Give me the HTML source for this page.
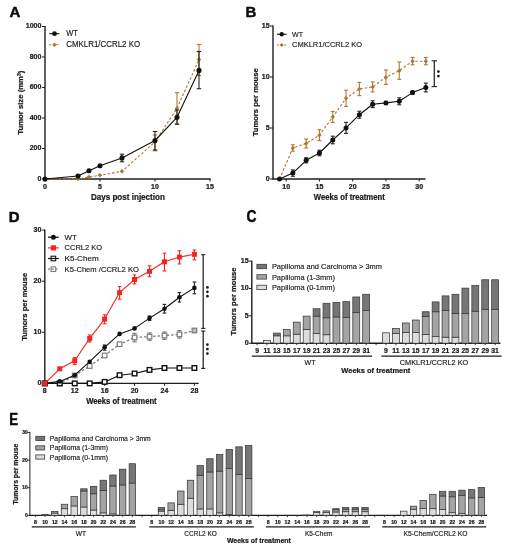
<!DOCTYPE html>
<html><head><meta charset="utf-8"><style>
html,body{margin:0;padding:0;background:#fff;overflow:hidden;width:507px;height:550px;}
svg{display:block;filter:blur(0.35px);font-family:"Liberation Sans",sans-serif;}
text{stroke:#1c1c1c;stroke-width:0.16px;}
text[font-weight=bold]{stroke-width:0.24px;}
</style></head><body>
<svg width="507" height="550" viewBox="0 0 507 550">
<rect width="507" height="550" fill="#fff"/>
<text x="9.40" y="16.50" font-size="15.0" font-weight="bold" fill="#0a0a0a" style="stroke-width:0.45px;stroke:#0a0a0a">A</text>
<text x="245.60" y="16.50" font-size="15.0" font-weight="bold" fill="#0a0a0a" style="stroke-width:0.45px;stroke:#0a0a0a">B</text>
<text x="8.80" y="221.60" font-size="15.0" font-weight="bold" fill="#0a0a0a" style="stroke-width:0.45px;stroke:#0a0a0a">D</text>
<text transform="translate(246.4 221.6) scale(0.92 1.04)" font-size="15.0" font-weight="bold" fill="#0a0a0a" style="stroke-width:0.45px;stroke:#0a0a0a">C</text>
<text transform="translate(9.2 425.2) scale(0.88 1.05)" font-size="15.0" font-weight="bold" fill="#0a0a0a" style="stroke-width:0.45px;stroke:#0a0a0a">E</text>
<line x1="45.00" y1="26.00" x2="45.00" y2="179.50" stroke="#1e1e1e" stroke-width="1.4"/>
<line x1="44.50" y1="179.00" x2="210.70" y2="179.00" stroke="#1e1e1e" stroke-width="1.4"/>
<line x1="42.00" y1="179.00" x2="45.00" y2="179.00" stroke="#1e1e1e" stroke-width="1"/>
<text x="41.40" y="180.90" font-size="7.0" font-weight="bold" text-anchor="end" fill="#1c1c1c">0</text>
<line x1="42.00" y1="148.50" x2="45.00" y2="148.50" stroke="#1e1e1e" stroke-width="1"/>
<text x="41.40" y="150.40" font-size="7.0" font-weight="bold" text-anchor="end" fill="#1c1c1c">200</text>
<line x1="42.00" y1="118.00" x2="45.00" y2="118.00" stroke="#1e1e1e" stroke-width="1"/>
<text x="41.40" y="119.90" font-size="7.0" font-weight="bold" text-anchor="end" fill="#1c1c1c">400</text>
<line x1="42.00" y1="87.50" x2="45.00" y2="87.50" stroke="#1e1e1e" stroke-width="1"/>
<text x="41.40" y="89.40" font-size="7.0" font-weight="bold" text-anchor="end" fill="#1c1c1c">600</text>
<line x1="42.00" y1="57.00" x2="45.00" y2="57.00" stroke="#1e1e1e" stroke-width="1"/>
<text x="41.40" y="58.90" font-size="7.0" font-weight="bold" text-anchor="end" fill="#1c1c1c">800</text>
<line x1="42.00" y1="26.50" x2="45.00" y2="26.50" stroke="#1e1e1e" stroke-width="1"/>
<text x="41.40" y="28.40" font-size="7.0" font-weight="bold" text-anchor="end" fill="#1c1c1c">1000</text>
<line x1="45.00" y1="179.00" x2="45.00" y2="181.60" stroke="#1e1e1e" stroke-width="1"/>
<text x="45.00" y="189.00" font-size="7.0" font-weight="bold" text-anchor="middle" fill="#1c1c1c">0</text>
<line x1="100.00" y1="179.00" x2="100.00" y2="181.60" stroke="#1e1e1e" stroke-width="1"/>
<text x="100.00" y="189.00" font-size="7.0" font-weight="bold" text-anchor="middle" fill="#1c1c1c">5</text>
<line x1="155.00" y1="179.00" x2="155.00" y2="181.60" stroke="#1e1e1e" stroke-width="1"/>
<text x="155.00" y="189.00" font-size="7.0" font-weight="bold" text-anchor="middle" fill="#1c1c1c">10</text>
<line x1="210.00" y1="179.00" x2="210.00" y2="181.60" stroke="#1e1e1e" stroke-width="1"/>
<text x="210.00" y="189.00" font-size="7.0" font-weight="bold" text-anchor="middle" fill="#1c1c1c">15</text>
<text x="127.90" y="199.60" font-size="8.5" font-weight="bold" text-anchor="middle" textLength="74.0" lengthAdjust="spacingAndGlyphs" fill="#1c1c1c">Days post injection</text>
<text transform="translate(23.2 102.7) rotate(-90)" font-size="7.8" font-weight="bold" fill="#1c1c1c" text-anchor="middle" textLength="64" lengthAdjust="spacingAndGlyphs">Tumor size (mm<tspan dy="-2.6" font-size="5">3</tspan><tspan dy="2.6">)</tspan></text>
<line x1="49.40" y1="33.70" x2="59.50" y2="33.70" stroke="#111" stroke-width="1.1"/>
<circle cx="54.50" cy="33.70" r="2.4" fill="#111"/>
<text x="66.20" y="36.40" font-size="8.2" textLength="11.6" lengthAdjust="spacingAndGlyphs" fill="#1c1c1c">WT</text>
<line x1="49.40" y1="44.70" x2="59.50" y2="44.70" stroke="#ad7833" stroke-width="1.0" stroke-dasharray="2 1.6"/>
<path d="M54.50 42.50L56.70 44.70L54.50 46.90L52.30 44.70Z" fill="#ad7833"/>
<text x="66.20" y="47.40" font-size="8.2" textLength="74.0" lengthAdjust="spacingAndGlyphs" fill="#1c1c1c">CMKLR1/CCRL2 KO</text>
<line x1="155.00" y1="135.00" x2="155.00" y2="150.80" stroke="#ad7833" stroke-width="1.1"/>
<line x1="152.80" y1="135.00" x2="157.20" y2="135.00" stroke="#ad7833" stroke-width="1.1"/>
<line x1="152.80" y1="150.80" x2="157.20" y2="150.80" stroke="#ad7833" stroke-width="1.1"/>
<line x1="177.00" y1="92.70" x2="177.00" y2="124.00" stroke="#ad7833" stroke-width="1.1"/>
<line x1="174.80" y1="92.70" x2="179.20" y2="92.70" stroke="#ad7833" stroke-width="1.1"/>
<line x1="174.80" y1="124.00" x2="179.20" y2="124.00" stroke="#ad7833" stroke-width="1.1"/>
<line x1="199.00" y1="44.50" x2="199.00" y2="75.50" stroke="#ad7833" stroke-width="1.1"/>
<line x1="196.80" y1="44.50" x2="201.20" y2="44.50" stroke="#ad7833" stroke-width="1.1"/>
<line x1="196.80" y1="75.50" x2="201.20" y2="75.50" stroke="#ad7833" stroke-width="1.1"/>
<polyline points="45.00,179.00 78.00,179.00 89.00,177.00 100.00,175.30 122.00,171.30 155.00,142.00 177.00,108.20 199.00,59.60" fill="none" stroke="#ad7833" stroke-width="1.1" stroke-dasharray="2.6 1.9" stroke-linejoin="round"/>
<path d="M45.00 176.70L47.30 179.00L45.00 181.30L42.70 179.00Z" fill="#ad7833"/>
<path d="M78.00 176.70L80.30 179.00L78.00 181.30L75.70 179.00Z" fill="#ad7833"/>
<path d="M89.00 174.70L91.30 177.00L89.00 179.30L86.70 177.00Z" fill="#ad7833"/>
<path d="M100.00 173.00L102.30 175.30L100.00 177.60L97.70 175.30Z" fill="#ad7833"/>
<path d="M122.00 169.00L124.30 171.30L122.00 173.60L119.70 171.30Z" fill="#ad7833"/>
<path d="M155.00 139.70L157.30 142.00L155.00 144.30L152.70 142.00Z" fill="#ad7833"/>
<path d="M177.00 105.90L179.30 108.20L177.00 110.50L174.70 108.20Z" fill="#ad7833"/>
<path d="M199.00 57.30L201.30 59.60L199.00 61.90L196.70 59.60Z" fill="#ad7833"/>
<line x1="122.00" y1="154.20" x2="122.00" y2="161.80" stroke="#222" stroke-width="1.1"/>
<line x1="119.80" y1="154.20" x2="124.20" y2="154.20" stroke="#222" stroke-width="1.1"/>
<line x1="119.80" y1="161.80" x2="124.20" y2="161.80" stroke="#222" stroke-width="1.1"/>
<line x1="155.00" y1="131.50" x2="155.00" y2="150.00" stroke="#222" stroke-width="1.1"/>
<line x1="152.80" y1="131.50" x2="157.20" y2="131.50" stroke="#222" stroke-width="1.1"/>
<line x1="152.80" y1="150.00" x2="157.20" y2="150.00" stroke="#222" stroke-width="1.1"/>
<line x1="177.00" y1="110.00" x2="177.00" y2="124.20" stroke="#222" stroke-width="1.1"/>
<line x1="174.80" y1="110.00" x2="179.20" y2="110.00" stroke="#222" stroke-width="1.1"/>
<line x1="174.80" y1="124.20" x2="179.20" y2="124.20" stroke="#222" stroke-width="1.1"/>
<line x1="199.00" y1="51.50" x2="199.00" y2="88.70" stroke="#222" stroke-width="1.1"/>
<line x1="196.80" y1="51.50" x2="201.20" y2="51.50" stroke="#222" stroke-width="1.1"/>
<line x1="196.80" y1="88.70" x2="201.20" y2="88.70" stroke="#222" stroke-width="1.1"/>
<polyline points="45.00,179.00 78.00,176.00 89.00,170.80 100.00,165.70 122.00,157.90 155.00,140.50 177.00,117.30 199.00,70.40" fill="none" stroke="#111" stroke-width="1.1" stroke-linejoin="round"/>
<circle cx="45.00" cy="179.00" r="2.55" fill="#111"/>
<circle cx="78.00" cy="176.00" r="2.55" fill="#111"/>
<circle cx="89.00" cy="170.80" r="2.55" fill="#111"/>
<circle cx="100.00" cy="165.70" r="2.55" fill="#111"/>
<circle cx="122.00" cy="157.90" r="2.55" fill="#111"/>
<circle cx="155.00" cy="140.50" r="2.55" fill="#111"/>
<circle cx="177.00" cy="117.30" r="2.55" fill="#111"/>
<circle cx="199.00" cy="70.40" r="2.55" fill="#111"/>
<line x1="273.00" y1="25.50" x2="273.00" y2="179.50" stroke="#1e1e1e" stroke-width="1.4"/>
<line x1="272.50" y1="179.00" x2="425.60" y2="179.00" stroke="#1e1e1e" stroke-width="1.4"/>
<line x1="270.00" y1="179.00" x2="273.00" y2="179.00" stroke="#1e1e1e" stroke-width="1"/>
<text x="269.60" y="180.90" font-size="7.0" font-weight="bold" text-anchor="end" fill="#1c1c1c">0</text>
<line x1="270.00" y1="128.00" x2="273.00" y2="128.00" stroke="#1e1e1e" stroke-width="1"/>
<text x="269.60" y="129.90" font-size="7.0" font-weight="bold" text-anchor="end" fill="#1c1c1c">5</text>
<line x1="270.00" y1="77.00" x2="273.00" y2="77.00" stroke="#1e1e1e" stroke-width="1"/>
<text x="269.60" y="78.90" font-size="7.0" font-weight="bold" text-anchor="end" fill="#1c1c1c">10</text>
<line x1="270.00" y1="26.00" x2="273.00" y2="26.00" stroke="#1e1e1e" stroke-width="1"/>
<text x="269.60" y="27.90" font-size="7.0" font-weight="bold" text-anchor="end" fill="#1c1c1c">15</text>
<line x1="286.20" y1="179.00" x2="286.20" y2="181.40" stroke="#1e1e1e" stroke-width="1"/>
<text x="286.20" y="189.20" font-size="7.0" font-weight="bold" text-anchor="middle" fill="#1c1c1c">10</text>
<line x1="319.45" y1="179.00" x2="319.45" y2="181.40" stroke="#1e1e1e" stroke-width="1"/>
<text x="319.45" y="189.20" font-size="7.0" font-weight="bold" text-anchor="middle" fill="#1c1c1c">15</text>
<line x1="352.70" y1="179.00" x2="352.70" y2="181.40" stroke="#1e1e1e" stroke-width="1"/>
<text x="352.70" y="189.20" font-size="7.0" font-weight="bold" text-anchor="middle" fill="#1c1c1c">20</text>
<line x1="385.95" y1="179.00" x2="385.95" y2="181.40" stroke="#1e1e1e" stroke-width="1"/>
<text x="385.95" y="189.20" font-size="7.0" font-weight="bold" text-anchor="middle" fill="#1c1c1c">25</text>
<line x1="419.20" y1="179.00" x2="419.20" y2="181.40" stroke="#1e1e1e" stroke-width="1"/>
<text x="419.20" y="189.20" font-size="7.0" font-weight="bold" text-anchor="middle" fill="#1c1c1c">30</text>
<text x="349.30" y="199.60" font-size="8.5" font-weight="bold" text-anchor="middle" textLength="71.0" lengthAdjust="spacingAndGlyphs" fill="#1c1c1c">Weeks of treatment</text>
<text transform="translate(257.8 102.3) rotate(-90)" font-size="7.7" font-weight="bold" fill="#1c1c1c" text-anchor="middle" textLength="68" lengthAdjust="spacingAndGlyphs">Tumors per mouse</text>
<line x1="277.00" y1="34.30" x2="286.50" y2="34.30" stroke="#111" stroke-width="1.1"/>
<circle cx="281.70" cy="34.30" r="2.2" fill="#111"/>
<text x="292.00" y="36.50" font-size="7.9" textLength="11.0" lengthAdjust="spacingAndGlyphs" fill="#1c1c1c">WT</text>
<line x1="277.00" y1="45.00" x2="286.50" y2="45.00" stroke="#ad7833" stroke-width="1.0" stroke-dasharray="2 1.6"/>
<path d="M281.70 42.90L283.80 45.00L281.70 47.10L279.60 45.00Z" fill="#ad7833"/>
<text x="292.00" y="47.10" font-size="7.9" textLength="70.0" lengthAdjust="spacingAndGlyphs" fill="#1c1c1c">CMKLR1/CCRL2 KO</text>
<line x1="292.85" y1="144.80" x2="292.85" y2="151.20" stroke="#ad7833" stroke-width="1.1"/>
<line x1="290.85" y1="144.80" x2="294.85" y2="144.80" stroke="#ad7833" stroke-width="1.1"/>
<line x1="290.85" y1="151.20" x2="294.85" y2="151.20" stroke="#ad7833" stroke-width="1.1"/>
<line x1="306.15" y1="139.00" x2="306.15" y2="148.00" stroke="#ad7833" stroke-width="1.1"/>
<line x1="304.15" y1="139.00" x2="308.15" y2="139.00" stroke="#ad7833" stroke-width="1.1"/>
<line x1="304.15" y1="148.00" x2="308.15" y2="148.00" stroke="#ad7833" stroke-width="1.1"/>
<line x1="319.45" y1="129.70" x2="319.45" y2="140.70" stroke="#ad7833" stroke-width="1.1"/>
<line x1="317.45" y1="129.70" x2="321.45" y2="129.70" stroke="#ad7833" stroke-width="1.1"/>
<line x1="317.45" y1="140.70" x2="321.45" y2="140.70" stroke="#ad7833" stroke-width="1.1"/>
<line x1="332.75" y1="111.40" x2="332.75" y2="122.40" stroke="#ad7833" stroke-width="1.1"/>
<line x1="330.75" y1="111.40" x2="334.75" y2="111.40" stroke="#ad7833" stroke-width="1.1"/>
<line x1="330.75" y1="122.40" x2="334.75" y2="122.40" stroke="#ad7833" stroke-width="1.1"/>
<line x1="346.05" y1="90.20" x2="346.05" y2="106.40" stroke="#ad7833" stroke-width="1.1"/>
<line x1="344.05" y1="90.20" x2="348.05" y2="90.20" stroke="#ad7833" stroke-width="1.1"/>
<line x1="344.05" y1="106.40" x2="348.05" y2="106.40" stroke="#ad7833" stroke-width="1.1"/>
<line x1="359.35" y1="82.40" x2="359.35" y2="95.60" stroke="#ad7833" stroke-width="1.1"/>
<line x1="357.35" y1="82.40" x2="361.35" y2="82.40" stroke="#ad7833" stroke-width="1.1"/>
<line x1="357.35" y1="95.60" x2="361.35" y2="95.60" stroke="#ad7833" stroke-width="1.1"/>
<line x1="372.65" y1="81.90" x2="372.65" y2="91.90" stroke="#ad7833" stroke-width="1.1"/>
<line x1="370.65" y1="81.90" x2="374.65" y2="81.90" stroke="#ad7833" stroke-width="1.1"/>
<line x1="370.65" y1="91.90" x2="374.65" y2="91.90" stroke="#ad7833" stroke-width="1.1"/>
<line x1="385.95" y1="70.00" x2="385.95" y2="84.40" stroke="#ad7833" stroke-width="1.1"/>
<line x1="383.95" y1="70.00" x2="387.95" y2="70.00" stroke="#ad7833" stroke-width="1.1"/>
<line x1="383.95" y1="84.40" x2="387.95" y2="84.40" stroke="#ad7833" stroke-width="1.1"/>
<line x1="399.25" y1="62.10" x2="399.25" y2="79.30" stroke="#ad7833" stroke-width="1.1"/>
<line x1="397.25" y1="62.10" x2="401.25" y2="62.10" stroke="#ad7833" stroke-width="1.1"/>
<line x1="397.25" y1="79.30" x2="401.25" y2="79.30" stroke="#ad7833" stroke-width="1.1"/>
<line x1="412.55" y1="57.60" x2="412.55" y2="64.80" stroke="#ad7833" stroke-width="1.1"/>
<line x1="410.55" y1="57.60" x2="414.55" y2="57.60" stroke="#ad7833" stroke-width="1.1"/>
<line x1="410.55" y1="64.80" x2="414.55" y2="64.80" stroke="#ad7833" stroke-width="1.1"/>
<line x1="425.85" y1="57.60" x2="425.85" y2="64.80" stroke="#ad7833" stroke-width="1.1"/>
<line x1="423.85" y1="57.60" x2="427.85" y2="57.60" stroke="#ad7833" stroke-width="1.1"/>
<line x1="423.85" y1="64.80" x2="427.85" y2="64.80" stroke="#ad7833" stroke-width="1.1"/>
<polyline points="279.55,179.00 292.85,148.00 306.15,143.50 319.45,135.20 332.75,116.90 346.05,98.30 359.35,89.00 372.65,86.90 385.95,77.20 399.25,70.70 412.55,61.20 425.85,61.20" fill="none" stroke="#ad7833" stroke-width="1.1" stroke-dasharray="2.6 1.9" stroke-linejoin="round"/>
<path d="M279.55 176.80L281.75 179.00L279.55 181.20L277.35 179.00Z" fill="#ad7833"/>
<path d="M292.85 145.80L295.05 148.00L292.85 150.20L290.65 148.00Z" fill="#ad7833"/>
<path d="M306.15 141.30L308.35 143.50L306.15 145.70L303.95 143.50Z" fill="#ad7833"/>
<path d="M319.45 133.00L321.65 135.20L319.45 137.40L317.25 135.20Z" fill="#ad7833"/>
<path d="M332.75 114.70L334.95 116.90L332.75 119.10L330.55 116.90Z" fill="#ad7833"/>
<path d="M346.05 96.10L348.25 98.30L346.05 100.50L343.85 98.30Z" fill="#ad7833"/>
<path d="M359.35 86.80L361.55 89.00L359.35 91.20L357.15 89.00Z" fill="#ad7833"/>
<path d="M372.65 84.70L374.85 86.90L372.65 89.10L370.45 86.90Z" fill="#ad7833"/>
<path d="M385.95 75.00L388.15 77.20L385.95 79.40L383.75 77.20Z" fill="#ad7833"/>
<path d="M399.25 68.50L401.45 70.70L399.25 72.90L397.05 70.70Z" fill="#ad7833"/>
<path d="M412.55 59.00L414.75 61.20L412.55 63.40L410.35 61.20Z" fill="#ad7833"/>
<path d="M425.85 59.00L428.05 61.20L425.85 63.40L423.65 61.20Z" fill="#ad7833"/>
<line x1="292.85" y1="169.90" x2="292.85" y2="176.30" stroke="#222" stroke-width="1.1"/>
<line x1="290.85" y1="169.90" x2="294.85" y2="169.90" stroke="#222" stroke-width="1.1"/>
<line x1="290.85" y1="176.30" x2="294.85" y2="176.30" stroke="#222" stroke-width="1.1"/>
<line x1="306.15" y1="157.70" x2="306.15" y2="162.90" stroke="#222" stroke-width="1.1"/>
<line x1="304.15" y1="157.70" x2="308.15" y2="157.70" stroke="#222" stroke-width="1.1"/>
<line x1="304.15" y1="162.90" x2="308.15" y2="162.90" stroke="#222" stroke-width="1.1"/>
<line x1="319.45" y1="150.20" x2="319.45" y2="155.80" stroke="#222" stroke-width="1.1"/>
<line x1="317.45" y1="150.20" x2="321.45" y2="150.20" stroke="#222" stroke-width="1.1"/>
<line x1="317.45" y1="155.80" x2="321.45" y2="155.80" stroke="#222" stroke-width="1.1"/>
<line x1="332.75" y1="136.20" x2="332.75" y2="143.80" stroke="#222" stroke-width="1.1"/>
<line x1="330.75" y1="136.20" x2="334.75" y2="136.20" stroke="#222" stroke-width="1.1"/>
<line x1="330.75" y1="143.80" x2="334.75" y2="143.80" stroke="#222" stroke-width="1.1"/>
<line x1="346.05" y1="122.40" x2="346.05" y2="133.40" stroke="#222" stroke-width="1.1"/>
<line x1="344.05" y1="122.40" x2="348.05" y2="122.40" stroke="#222" stroke-width="1.1"/>
<line x1="344.05" y1="133.40" x2="348.05" y2="133.40" stroke="#222" stroke-width="1.1"/>
<line x1="359.35" y1="111.20" x2="359.35" y2="118.20" stroke="#222" stroke-width="1.1"/>
<line x1="357.35" y1="111.20" x2="361.35" y2="111.20" stroke="#222" stroke-width="1.1"/>
<line x1="357.35" y1="118.20" x2="361.35" y2="118.20" stroke="#222" stroke-width="1.1"/>
<line x1="372.65" y1="100.80" x2="372.65" y2="107.60" stroke="#222" stroke-width="1.1"/>
<line x1="370.65" y1="100.80" x2="374.65" y2="100.80" stroke="#222" stroke-width="1.1"/>
<line x1="370.65" y1="107.60" x2="374.65" y2="107.60" stroke="#222" stroke-width="1.1"/>
<line x1="385.95" y1="101.40" x2="385.95" y2="104.40" stroke="#222" stroke-width="1.1"/>
<line x1="383.95" y1="101.40" x2="387.95" y2="101.40" stroke="#222" stroke-width="1.1"/>
<line x1="383.95" y1="104.40" x2="387.95" y2="104.40" stroke="#222" stroke-width="1.1"/>
<line x1="399.25" y1="97.80" x2="399.25" y2="104.80" stroke="#222" stroke-width="1.1"/>
<line x1="397.25" y1="97.80" x2="401.25" y2="97.80" stroke="#222" stroke-width="1.1"/>
<line x1="397.25" y1="104.80" x2="401.25" y2="104.80" stroke="#222" stroke-width="1.1"/>
<line x1="412.55" y1="91.10" x2="412.55" y2="94.10" stroke="#222" stroke-width="1.1"/>
<line x1="410.55" y1="91.10" x2="414.55" y2="91.10" stroke="#222" stroke-width="1.1"/>
<line x1="410.55" y1="94.10" x2="414.55" y2="94.10" stroke="#222" stroke-width="1.1"/>
<line x1="425.85" y1="83.10" x2="425.85" y2="91.90" stroke="#222" stroke-width="1.1"/>
<line x1="423.85" y1="83.10" x2="427.85" y2="83.10" stroke="#222" stroke-width="1.1"/>
<line x1="423.85" y1="91.90" x2="427.85" y2="91.90" stroke="#222" stroke-width="1.1"/>
<polyline points="279.55,179.00 292.85,173.10 306.15,160.30 319.45,153.00 332.75,140.00 346.05,127.90 359.35,114.70 372.65,104.20 385.95,102.90 399.25,101.30 412.55,92.60 425.85,87.50" fill="none" stroke="#111" stroke-width="1.1" stroke-linejoin="round"/>
<circle cx="279.55" cy="179.00" r="2.5" fill="#111"/>
<circle cx="292.85" cy="173.10" r="2.5" fill="#111"/>
<circle cx="306.15" cy="160.30" r="2.5" fill="#111"/>
<circle cx="319.45" cy="153.00" r="2.5" fill="#111"/>
<circle cx="332.75" cy="140.00" r="2.5" fill="#111"/>
<circle cx="346.05" cy="127.90" r="2.5" fill="#111"/>
<circle cx="359.35" cy="114.70" r="2.5" fill="#111"/>
<circle cx="372.65" cy="104.20" r="2.5" fill="#111"/>
<circle cx="385.95" cy="102.90" r="2.5" fill="#111"/>
<circle cx="399.25" cy="101.30" r="2.5" fill="#111"/>
<circle cx="412.55" cy="92.60" r="2.5" fill="#111"/>
<circle cx="425.85" cy="87.50" r="2.5" fill="#111"/>
<line x1="434.30" y1="60.80" x2="434.30" y2="86.60" stroke="#222" stroke-width="1.25"/>
<line x1="431.60" y1="60.80" x2="437.00" y2="60.80" stroke="#222" stroke-width="1.1"/>
<line x1="431.60" y1="86.60" x2="437.00" y2="86.60" stroke="#222" stroke-width="1.1"/>
<circle cx="438.40" cy="71.60" r="1.35" fill="#1a1a1a"/>
<circle cx="438.40" cy="76.10" r="1.35" fill="#1a1a1a"/>
<line x1="44.80" y1="229.60" x2="44.80" y2="383.90" stroke="#1e1e1e" stroke-width="1.4"/>
<line x1="44.30" y1="383.40" x2="198.70" y2="383.40" stroke="#1e1e1e" stroke-width="1.4"/>
<line x1="41.80" y1="383.40" x2="44.80" y2="383.40" stroke="#1e1e1e" stroke-width="1"/>
<text x="41.40" y="385.30" font-size="7.0" font-weight="bold" text-anchor="end" fill="#1c1c1c">0</text>
<line x1="41.80" y1="332.30" x2="44.80" y2="332.30" stroke="#1e1e1e" stroke-width="1"/>
<text x="41.40" y="334.20" font-size="7.0" font-weight="bold" text-anchor="end" fill="#1c1c1c">10</text>
<line x1="41.80" y1="281.20" x2="44.80" y2="281.20" stroke="#1e1e1e" stroke-width="1"/>
<text x="41.40" y="283.10" font-size="7.0" font-weight="bold" text-anchor="end" fill="#1c1c1c">20</text>
<line x1="41.80" y1="230.10" x2="44.80" y2="230.10" stroke="#1e1e1e" stroke-width="1"/>
<text x="41.40" y="232.00" font-size="7.0" font-weight="bold" text-anchor="end" fill="#1c1c1c">30</text>
<line x1="44.80" y1="383.40" x2="44.80" y2="385.80" stroke="#1e1e1e" stroke-width="1"/>
<text x="44.80" y="393.40" font-size="7.0" font-weight="bold" text-anchor="middle" fill="#1c1c1c">8</text>
<line x1="74.72" y1="383.40" x2="74.72" y2="385.80" stroke="#1e1e1e" stroke-width="1"/>
<text x="74.72" y="393.40" font-size="7.0" font-weight="bold" text-anchor="middle" fill="#1c1c1c">12</text>
<line x1="104.64" y1="383.40" x2="104.64" y2="385.80" stroke="#1e1e1e" stroke-width="1"/>
<text x="104.64" y="393.40" font-size="7.0" font-weight="bold" text-anchor="middle" fill="#1c1c1c">16</text>
<line x1="134.56" y1="383.40" x2="134.56" y2="385.80" stroke="#1e1e1e" stroke-width="1"/>
<text x="134.56" y="393.40" font-size="7.0" font-weight="bold" text-anchor="middle" fill="#1c1c1c">20</text>
<line x1="164.48" y1="383.40" x2="164.48" y2="385.80" stroke="#1e1e1e" stroke-width="1"/>
<text x="164.48" y="393.40" font-size="7.0" font-weight="bold" text-anchor="middle" fill="#1c1c1c">24</text>
<line x1="194.40" y1="383.40" x2="194.40" y2="385.80" stroke="#1e1e1e" stroke-width="1"/>
<text x="194.40" y="393.40" font-size="7.0" font-weight="bold" text-anchor="middle" fill="#1c1c1c">28</text>
<text x="121.40" y="403.60" font-size="8.5" font-weight="bold" text-anchor="middle" textLength="70.5" lengthAdjust="spacingAndGlyphs" fill="#1c1c1c">Weeks of treatment</text>
<text transform="translate(27.4 306.8) rotate(-90)" font-size="7.7" font-weight="bold" fill="#1c1c1c" text-anchor="middle" textLength="68" lengthAdjust="spacingAndGlyphs">Tumors per mouse</text>
<line x1="48.00" y1="237.20" x2="58.80" y2="237.20" stroke="#111" stroke-width="1.2"/>
<circle cx="53.40" cy="237.20" r="2.5" fill="#111"/>
<line x1="48.00" y1="247.90" x2="58.80" y2="247.90" stroke="#f32424" stroke-width="1.2"/>
<rect x="50.80" y="245.30" width="5.20" height="5.20" fill="#f32424"/>
<line x1="48.00" y1="258.50" x2="58.80" y2="258.50" stroke="#111" stroke-width="1.2"/>
<rect x="51.10" y="256.20" width="4.60" height="4.60" fill="none" stroke="#111" stroke-width="1.1"/>
<line x1="48.00" y1="269.20" x2="58.80" y2="269.20" stroke="#7c7c7c" stroke-width="1.2" stroke-dasharray="2.2 1.4"/>
<rect x="51.10" y="266.90" width="4.60" height="4.60" fill="none" stroke="#7c7c7c" stroke-width="1.1"/>
<text x="64.60" y="239.70" font-size="7.9" fill="#1c1c1c">WT</text>
<text x="64.60" y="250.40" font-size="7.9" textLength="37.5" lengthAdjust="spacingAndGlyphs" fill="#1c1c1c">CCRL2 KO</text>
<text x="64.60" y="261.00" font-size="7.9" textLength="34.0" lengthAdjust="spacingAndGlyphs" fill="#1c1c1c">K5-Chem</text>
<text x="64.60" y="271.70" font-size="7.9" textLength="74.3" lengthAdjust="spacingAndGlyphs" fill="#1c1c1c">K5-Chem /CCRL2 KO</text>
<line x1="134.56" y1="333.40" x2="134.56" y2="341.80" stroke="#7c7c7c" stroke-width="1.1"/>
<line x1="132.36" y1="333.40" x2="136.76" y2="333.40" stroke="#7c7c7c" stroke-width="1.1"/>
<line x1="132.36" y1="341.80" x2="136.76" y2="341.80" stroke="#7c7c7c" stroke-width="1.1"/>
<line x1="149.52" y1="332.90" x2="149.52" y2="340.30" stroke="#7c7c7c" stroke-width="1.1"/>
<line x1="147.32" y1="332.90" x2="151.72" y2="332.90" stroke="#7c7c7c" stroke-width="1.1"/>
<line x1="147.32" y1="340.30" x2="151.72" y2="340.30" stroke="#7c7c7c" stroke-width="1.1"/>
<line x1="164.48" y1="332.00" x2="164.48" y2="339.50" stroke="#7c7c7c" stroke-width="1.1"/>
<line x1="162.28" y1="332.00" x2="166.68" y2="332.00" stroke="#7c7c7c" stroke-width="1.1"/>
<line x1="162.28" y1="339.50" x2="166.68" y2="339.50" stroke="#7c7c7c" stroke-width="1.1"/>
<line x1="179.44" y1="330.50" x2="179.44" y2="338.10" stroke="#7c7c7c" stroke-width="1.1"/>
<line x1="177.24" y1="330.50" x2="181.64" y2="330.50" stroke="#7c7c7c" stroke-width="1.1"/>
<line x1="177.24" y1="338.10" x2="181.64" y2="338.10" stroke="#7c7c7c" stroke-width="1.1"/>
<line x1="194.40" y1="328.50" x2="194.40" y2="332.50" stroke="#7c7c7c" stroke-width="1.1"/>
<line x1="192.20" y1="328.50" x2="196.60" y2="328.50" stroke="#7c7c7c" stroke-width="1.1"/>
<line x1="192.20" y1="332.50" x2="196.60" y2="332.50" stroke="#7c7c7c" stroke-width="1.1"/>
<polyline points="44.80,383.40 59.76,383.40 74.72,375.50 89.68,366.00 104.64,355.50 119.60,344.20 134.56,337.50 149.52,336.60 164.48,335.60 179.44,334.40 194.40,330.50" fill="none" stroke="#7c7c7c" stroke-width="1.3" stroke-dasharray="2.6 1.9" stroke-linejoin="round"/>
<rect x="42.50" y="381.10" width="4.60" height="4.60" fill="#fff" stroke="#7c7c7c" stroke-width="1.2"/>
<rect x="57.46" y="381.10" width="4.60" height="4.60" fill="#fff" stroke="#7c7c7c" stroke-width="1.2"/>
<rect x="72.42" y="373.20" width="4.60" height="4.60" fill="#fff" stroke="#7c7c7c" stroke-width="1.2"/>
<rect x="87.38" y="363.70" width="4.60" height="4.60" fill="#fff" stroke="#7c7c7c" stroke-width="1.2"/>
<rect x="102.34" y="353.20" width="4.60" height="4.60" fill="#fff" stroke="#7c7c7c" stroke-width="1.2"/>
<rect x="117.30" y="341.90" width="4.60" height="4.60" fill="#fff" stroke="#7c7c7c" stroke-width="1.2"/>
<rect x="132.26" y="335.20" width="4.60" height="4.60" fill="#fff" stroke="#7c7c7c" stroke-width="1.2"/>
<rect x="147.22" y="334.30" width="4.60" height="4.60" fill="#fff" stroke="#7c7c7c" stroke-width="1.2"/>
<rect x="162.18" y="333.30" width="4.60" height="4.60" fill="#fff" stroke="#7c7c7c" stroke-width="1.2"/>
<rect x="177.14" y="332.10" width="4.60" height="4.60" fill="#fff" stroke="#7c7c7c" stroke-width="1.2"/>
<rect x="192.10" y="328.20" width="4.60" height="4.60" fill="#bdbdbd" stroke="#7c7c7c" stroke-width="1.2"/>
<polyline points="44.80,383.40 59.76,383.40 74.72,383.40 89.68,383.40 104.64,381.90 119.60,375.20 134.56,373.50 149.52,369.90 164.48,368.00 179.44,368.00 194.40,368.00" fill="none" stroke="#111" stroke-width="1.1" stroke-linejoin="round"/>
<rect x="42.50" y="381.10" width="4.60" height="4.60" fill="#fff" stroke="#111" stroke-width="1.4"/>
<rect x="57.46" y="381.10" width="4.60" height="4.60" fill="#fff" stroke="#111" stroke-width="1.4"/>
<rect x="72.42" y="381.10" width="4.60" height="4.60" fill="#fff" stroke="#111" stroke-width="1.4"/>
<rect x="87.38" y="381.10" width="4.60" height="4.60" fill="#fff" stroke="#111" stroke-width="1.4"/>
<rect x="102.34" y="379.60" width="4.60" height="4.60" fill="#fff" stroke="#111" stroke-width="1.4"/>
<rect x="117.30" y="372.90" width="4.60" height="4.60" fill="#fff" stroke="#111" stroke-width="1.4"/>
<rect x="132.26" y="371.20" width="4.60" height="4.60" fill="#fff" stroke="#111" stroke-width="1.4"/>
<rect x="147.22" y="367.60" width="4.60" height="4.60" fill="#fff" stroke="#111" stroke-width="1.4"/>
<rect x="162.18" y="365.70" width="4.60" height="4.60" fill="#fff" stroke="#111" stroke-width="1.4"/>
<rect x="177.14" y="365.70" width="4.60" height="4.60" fill="#fff" stroke="#111" stroke-width="1.4"/>
<rect x="192.10" y="365.70" width="4.60" height="4.60" fill="#fff" stroke="#111" stroke-width="1.4"/>
<line x1="104.64" y1="345.00" x2="104.64" y2="350.20" stroke="#222" stroke-width="1.1"/>
<line x1="102.84" y1="345.00" x2="106.44" y2="345.00" stroke="#222" stroke-width="1.1"/>
<line x1="102.84" y1="350.20" x2="106.44" y2="350.20" stroke="#222" stroke-width="1.1"/>
<line x1="149.52" y1="316.00" x2="149.52" y2="320.50" stroke="#222" stroke-width="1.1"/>
<line x1="147.72" y1="316.00" x2="151.32" y2="316.00" stroke="#222" stroke-width="1.1"/>
<line x1="147.72" y1="320.50" x2="151.32" y2="320.50" stroke="#222" stroke-width="1.1"/>
<line x1="164.48" y1="304.40" x2="164.48" y2="313.10" stroke="#222" stroke-width="1.1"/>
<line x1="162.68" y1="304.40" x2="166.28" y2="304.40" stroke="#222" stroke-width="1.1"/>
<line x1="162.68" y1="313.10" x2="166.28" y2="313.10" stroke="#222" stroke-width="1.1"/>
<line x1="179.44" y1="292.60" x2="179.44" y2="302.00" stroke="#222" stroke-width="1.1"/>
<line x1="177.64" y1="292.60" x2="181.24" y2="292.60" stroke="#222" stroke-width="1.1"/>
<line x1="177.64" y1="302.00" x2="181.24" y2="302.00" stroke="#222" stroke-width="1.1"/>
<line x1="194.40" y1="282.00" x2="194.40" y2="293.80" stroke="#222" stroke-width="1.1"/>
<line x1="192.60" y1="282.00" x2="196.20" y2="282.00" stroke="#222" stroke-width="1.1"/>
<line x1="192.60" y1="293.80" x2="196.20" y2="293.80" stroke="#222" stroke-width="1.1"/>
<polyline points="44.80,383.40 59.76,381.40 74.72,375.20 89.68,361.70 104.64,347.30 119.60,333.90 134.56,328.40 149.52,318.10 164.48,308.80 179.44,297.30 194.40,287.90" fill="none" stroke="#111" stroke-width="1.1" stroke-linejoin="round"/>
<circle cx="44.80" cy="383.40" r="2.3" fill="#111"/>
<circle cx="59.76" cy="381.40" r="2.3" fill="#111"/>
<circle cx="74.72" cy="375.20" r="2.3" fill="#111"/>
<circle cx="89.68" cy="361.70" r="2.3" fill="#111"/>
<circle cx="104.64" cy="347.30" r="2.3" fill="#111"/>
<circle cx="119.60" cy="333.90" r="2.3" fill="#111"/>
<circle cx="134.56" cy="328.40" r="2.3" fill="#111"/>
<circle cx="149.52" cy="318.10" r="2.3" fill="#111"/>
<circle cx="164.48" cy="308.80" r="2.3" fill="#111"/>
<circle cx="179.44" cy="297.30" r="2.3" fill="#111"/>
<circle cx="194.40" cy="287.90" r="2.3" fill="#111"/>
<line x1="74.72" y1="357.50" x2="74.72" y2="364.50" stroke="#f32424" stroke-width="1.1"/>
<line x1="72.92" y1="357.50" x2="76.52" y2="357.50" stroke="#f32424" stroke-width="1.1"/>
<line x1="72.92" y1="364.50" x2="76.52" y2="364.50" stroke="#f32424" stroke-width="1.1"/>
<line x1="89.68" y1="335.00" x2="89.68" y2="342.00" stroke="#f32424" stroke-width="1.1"/>
<line x1="87.88" y1="335.00" x2="91.48" y2="335.00" stroke="#f32424" stroke-width="1.1"/>
<line x1="87.88" y1="342.00" x2="91.48" y2="342.00" stroke="#f32424" stroke-width="1.1"/>
<line x1="104.64" y1="314.70" x2="104.64" y2="323.80" stroke="#f32424" stroke-width="1.1"/>
<line x1="102.84" y1="314.70" x2="106.44" y2="314.70" stroke="#f32424" stroke-width="1.1"/>
<line x1="102.84" y1="323.80" x2="106.44" y2="323.80" stroke="#f32424" stroke-width="1.1"/>
<line x1="119.60" y1="286.60" x2="119.60" y2="299.20" stroke="#f32424" stroke-width="1.1"/>
<line x1="117.80" y1="286.60" x2="121.40" y2="286.60" stroke="#f32424" stroke-width="1.1"/>
<line x1="117.80" y1="299.20" x2="121.40" y2="299.20" stroke="#f32424" stroke-width="1.1"/>
<line x1="134.56" y1="274.90" x2="134.56" y2="283.90" stroke="#f32424" stroke-width="1.1"/>
<line x1="132.76" y1="274.90" x2="136.36" y2="274.90" stroke="#f32424" stroke-width="1.1"/>
<line x1="132.76" y1="283.90" x2="136.36" y2="283.90" stroke="#f32424" stroke-width="1.1"/>
<line x1="149.52" y1="265.80" x2="149.52" y2="276.80" stroke="#f32424" stroke-width="1.1"/>
<line x1="147.72" y1="265.80" x2="151.32" y2="265.80" stroke="#f32424" stroke-width="1.1"/>
<line x1="147.72" y1="276.80" x2="151.32" y2="276.80" stroke="#f32424" stroke-width="1.1"/>
<line x1="164.48" y1="253.20" x2="164.48" y2="271.00" stroke="#f32424" stroke-width="1.1"/>
<line x1="162.68" y1="253.20" x2="166.28" y2="253.20" stroke="#f32424" stroke-width="1.1"/>
<line x1="162.68" y1="271.00" x2="166.28" y2="271.00" stroke="#f32424" stroke-width="1.1"/>
<line x1="179.44" y1="250.80" x2="179.44" y2="263.90" stroke="#f32424" stroke-width="1.1"/>
<line x1="177.64" y1="250.80" x2="181.24" y2="250.80" stroke="#f32424" stroke-width="1.1"/>
<line x1="177.64" y1="263.90" x2="181.24" y2="263.90" stroke="#f32424" stroke-width="1.1"/>
<line x1="194.40" y1="250.00" x2="194.40" y2="259.90" stroke="#f32424" stroke-width="1.1"/>
<line x1="192.60" y1="250.00" x2="196.20" y2="250.00" stroke="#f32424" stroke-width="1.1"/>
<line x1="192.60" y1="259.90" x2="196.20" y2="259.90" stroke="#f32424" stroke-width="1.1"/>
<polyline points="44.80,383.40 59.76,368.80 74.72,360.80 89.68,338.40 104.64,319.10 119.60,292.60 134.56,279.50 149.52,271.30 164.48,261.80 179.44,257.10 194.40,254.30" fill="none" stroke="#f32424" stroke-width="1.1" stroke-linejoin="round"/>
<rect x="42.30" y="380.90" width="5.00" height="5.00" fill="#f32424"/>
<rect x="57.26" y="366.30" width="5.00" height="5.00" fill="#f32424"/>
<rect x="72.22" y="358.30" width="5.00" height="5.00" fill="#f32424"/>
<rect x="87.18" y="335.90" width="5.00" height="5.00" fill="#f32424"/>
<rect x="102.14" y="316.60" width="5.00" height="5.00" fill="#f32424"/>
<rect x="117.10" y="290.10" width="5.00" height="5.00" fill="#f32424"/>
<rect x="132.06" y="277.00" width="5.00" height="5.00" fill="#f32424"/>
<rect x="147.02" y="268.80" width="5.00" height="5.00" fill="#f32424"/>
<rect x="161.98" y="259.30" width="5.00" height="5.00" fill="#f32424"/>
<rect x="176.94" y="254.60" width="5.00" height="5.00" fill="#f32424"/>
<rect x="191.90" y="251.80" width="5.00" height="5.00" fill="#f32424"/>
<line x1="203.20" y1="254.70" x2="203.20" y2="328.40" stroke="#222" stroke-width="1.25"/>
<line x1="201.10" y1="254.70" x2="205.30" y2="254.70" stroke="#222" stroke-width="1.1"/>
<line x1="201.10" y1="328.40" x2="205.30" y2="328.40" stroke="#222" stroke-width="1.1"/>
<line x1="203.20" y1="331.00" x2="203.20" y2="368.40" stroke="#222" stroke-width="1.25"/>
<line x1="201.10" y1="331.00" x2="205.30" y2="331.00" stroke="#222" stroke-width="1.1"/>
<line x1="201.10" y1="368.40" x2="205.30" y2="368.40" stroke="#222" stroke-width="1.1"/>
<circle cx="207.40" cy="287.40" r="1.35" fill="#1a1a1a"/>
<circle cx="207.40" cy="291.80" r="1.35" fill="#1a1a1a"/>
<circle cx="207.40" cy="296.20" r="1.35" fill="#1a1a1a"/>
<circle cx="207.40" cy="344.60" r="1.35" fill="#1a1a1a"/>
<circle cx="207.40" cy="349.10" r="1.35" fill="#1a1a1a"/>
<circle cx="207.40" cy="353.60" r="1.35" fill="#1a1a1a"/>
<line x1="251.80" y1="260.65" x2="251.80" y2="343.70" stroke="#1e1e1e" stroke-width="1.4"/>
<line x1="251.30" y1="343.20" x2="500.50" y2="343.20" stroke="#1e1e1e" stroke-width="1.4"/>
<line x1="248.80" y1="343.20" x2="251.80" y2="343.20" stroke="#1e1e1e" stroke-width="1"/>
<text x="248.60" y="345.10" font-size="7.0" font-weight="bold" text-anchor="end" fill="#1c1c1c">0</text>
<line x1="248.80" y1="315.85" x2="251.80" y2="315.85" stroke="#1e1e1e" stroke-width="1"/>
<text x="248.60" y="317.75" font-size="7.0" font-weight="bold" text-anchor="end" fill="#1c1c1c">5</text>
<line x1="248.80" y1="288.50" x2="251.80" y2="288.50" stroke="#1e1e1e" stroke-width="1"/>
<text x="248.60" y="290.40" font-size="7.0" font-weight="bold" text-anchor="end" fill="#1c1c1c">10</text>
<line x1="248.80" y1="261.15" x2="251.80" y2="261.15" stroke="#1e1e1e" stroke-width="1"/>
<text x="248.60" y="263.05" font-size="7.0" font-weight="bold" text-anchor="end" fill="#1c1c1c">15</text>
<text transform="translate(235.5 301.4) rotate(-90)" font-size="7.7" font-weight="bold" fill="#1c1c1c" text-anchor="middle" textLength="68" lengthAdjust="spacingAndGlyphs">Tumors per mouse</text>
<rect x="263.52" y="340.46" width="6.90" height="2.74" fill="#dcdcdc" stroke="#3a3a3a" stroke-width="0.75"/>
<rect x="273.44" y="335.82" width="6.90" height="7.38" fill="#dcdcdc" stroke="#3a3a3a" stroke-width="0.75"/>
<rect x="273.44" y="333.08" width="6.90" height="2.74" fill="#767676" stroke="#3a3a3a" stroke-width="0.75"/>
<rect x="283.36" y="335.82" width="6.90" height="7.38" fill="#dcdcdc" stroke="#3a3a3a" stroke-width="0.75"/>
<rect x="283.36" y="329.52" width="6.90" height="6.29" fill="#a4a4a4" stroke="#3a3a3a" stroke-width="0.75"/>
<rect x="293.28" y="334.17" width="6.90" height="9.03" fill="#dcdcdc" stroke="#3a3a3a" stroke-width="0.75"/>
<rect x="293.28" y="322.14" width="6.90" height="12.03" fill="#a4a4a4" stroke="#3a3a3a" stroke-width="0.75"/>
<rect x="303.20" y="329.52" width="6.90" height="13.68" fill="#dcdcdc" stroke="#3a3a3a" stroke-width="0.75"/>
<rect x="303.20" y="316.12" width="6.90" height="13.40" fill="#a4a4a4" stroke="#3a3a3a" stroke-width="0.75"/>
<rect x="313.12" y="333.63" width="6.90" height="9.57" fill="#dcdcdc" stroke="#3a3a3a" stroke-width="0.75"/>
<rect x="313.12" y="316.12" width="6.90" height="17.50" fill="#a4a4a4" stroke="#3a3a3a" stroke-width="0.75"/>
<rect x="313.12" y="308.74" width="6.90" height="7.38" fill="#767676" stroke="#3a3a3a" stroke-width="0.75"/>
<rect x="323.04" y="334.72" width="6.90" height="8.48" fill="#dcdcdc" stroke="#3a3a3a" stroke-width="0.75"/>
<rect x="323.04" y="317.76" width="6.90" height="16.96" fill="#a4a4a4" stroke="#3a3a3a" stroke-width="0.75"/>
<rect x="323.04" y="303.27" width="6.90" height="14.50" fill="#767676" stroke="#3a3a3a" stroke-width="0.75"/>
<rect x="332.96" y="316.94" width="6.90" height="26.26" fill="#a4a4a4" stroke="#3a3a3a" stroke-width="0.75"/>
<rect x="332.96" y="302.45" width="6.90" height="14.50" fill="#767676" stroke="#3a3a3a" stroke-width="0.75"/>
<rect x="342.88" y="317.49" width="6.90" height="25.71" fill="#a4a4a4" stroke="#3a3a3a" stroke-width="0.75"/>
<rect x="342.88" y="301.63" width="6.90" height="15.86" fill="#767676" stroke="#3a3a3a" stroke-width="0.75"/>
<rect x="352.80" y="312.57" width="6.90" height="30.63" fill="#a4a4a4" stroke="#3a3a3a" stroke-width="0.75"/>
<rect x="352.80" y="296.98" width="6.90" height="15.59" fill="#767676" stroke="#3a3a3a" stroke-width="0.75"/>
<rect x="362.72" y="310.38" width="6.90" height="32.82" fill="#a4a4a4" stroke="#3a3a3a" stroke-width="0.75"/>
<rect x="362.72" y="294.24" width="6.90" height="16.14" fill="#767676" stroke="#3a3a3a" stroke-width="0.75"/>
<rect x="382.56" y="332.81" width="6.90" height="10.39" fill="#dcdcdc" stroke="#3a3a3a" stroke-width="0.75"/>
<rect x="392.48" y="333.35" width="6.90" height="9.85" fill="#dcdcdc" stroke="#3a3a3a" stroke-width="0.75"/>
<rect x="392.48" y="328.43" width="6.90" height="4.92" fill="#a4a4a4" stroke="#3a3a3a" stroke-width="0.75"/>
<rect x="402.40" y="332.53" width="6.90" height="10.67" fill="#dcdcdc" stroke="#3a3a3a" stroke-width="0.75"/>
<rect x="402.40" y="322.96" width="6.90" height="9.57" fill="#a4a4a4" stroke="#3a3a3a" stroke-width="0.75"/>
<rect x="412.32" y="332.53" width="6.90" height="10.67" fill="#dcdcdc" stroke="#3a3a3a" stroke-width="0.75"/>
<rect x="412.32" y="320.01" width="6.90" height="12.53" fill="#a4a4a4" stroke="#3a3a3a" stroke-width="0.75"/>
<rect x="422.24" y="334.45" width="6.90" height="8.75" fill="#dcdcdc" stroke="#3a3a3a" stroke-width="0.75"/>
<rect x="422.24" y="316.40" width="6.90" height="18.05" fill="#a4a4a4" stroke="#3a3a3a" stroke-width="0.75"/>
<rect x="422.24" y="311.75" width="6.90" height="4.65" fill="#767676" stroke="#3a3a3a" stroke-width="0.75"/>
<rect x="432.16" y="336.64" width="6.90" height="6.56" fill="#dcdcdc" stroke="#3a3a3a" stroke-width="0.75"/>
<rect x="432.16" y="311.75" width="6.90" height="24.89" fill="#a4a4a4" stroke="#3a3a3a" stroke-width="0.75"/>
<rect x="432.16" y="301.90" width="6.90" height="9.85" fill="#767676" stroke="#3a3a3a" stroke-width="0.75"/>
<rect x="442.08" y="337.18" width="6.90" height="6.02" fill="#dcdcdc" stroke="#3a3a3a" stroke-width="0.75"/>
<rect x="442.08" y="310.49" width="6.90" height="26.69" fill="#a4a4a4" stroke="#3a3a3a" stroke-width="0.75"/>
<rect x="442.08" y="295.88" width="6.90" height="14.60" fill="#767676" stroke="#3a3a3a" stroke-width="0.75"/>
<rect x="452.00" y="337.18" width="6.90" height="6.02" fill="#dcdcdc" stroke="#3a3a3a" stroke-width="0.75"/>
<rect x="452.00" y="313.66" width="6.90" height="23.52" fill="#a4a4a4" stroke="#3a3a3a" stroke-width="0.75"/>
<rect x="452.00" y="294.30" width="6.90" height="19.36" fill="#767676" stroke="#3a3a3a" stroke-width="0.75"/>
<rect x="461.92" y="313.66" width="6.90" height="29.54" fill="#a4a4a4" stroke="#3a3a3a" stroke-width="0.75"/>
<rect x="461.92" y="288.12" width="6.90" height="25.54" fill="#767676" stroke="#3a3a3a" stroke-width="0.75"/>
<rect x="471.84" y="311.20" width="6.90" height="32.00" fill="#a4a4a4" stroke="#3a3a3a" stroke-width="0.75"/>
<rect x="471.84" y="285.33" width="6.90" height="25.87" fill="#767676" stroke="#3a3a3a" stroke-width="0.75"/>
<rect x="481.76" y="309.61" width="6.90" height="33.59" fill="#a4a4a4" stroke="#3a3a3a" stroke-width="0.75"/>
<rect x="481.76" y="279.75" width="6.90" height="29.87" fill="#767676" stroke="#3a3a3a" stroke-width="0.75"/>
<rect x="491.68" y="309.61" width="6.90" height="33.59" fill="#a4a4a4" stroke="#3a3a3a" stroke-width="0.75"/>
<rect x="491.68" y="279.75" width="6.90" height="29.87" fill="#767676" stroke="#3a3a3a" stroke-width="0.75"/>
<line x1="257.05" y1="343.20" x2="257.05" y2="345.20" stroke="#1e1e1e" stroke-width="0.9"/>
<text x="257.05" y="352.80" font-size="6.8" font-weight="bold" text-anchor="middle" fill="#1c1c1c">9</text>
<line x1="266.97" y1="343.20" x2="266.97" y2="345.20" stroke="#1e1e1e" stroke-width="0.9"/>
<text x="266.97" y="352.80" font-size="6.8" font-weight="bold" text-anchor="middle" fill="#1c1c1c">11</text>
<line x1="276.89" y1="343.20" x2="276.89" y2="345.20" stroke="#1e1e1e" stroke-width="0.9"/>
<text x="276.89" y="352.80" font-size="6.8" font-weight="bold" text-anchor="middle" fill="#1c1c1c">13</text>
<line x1="286.81" y1="343.20" x2="286.81" y2="345.20" stroke="#1e1e1e" stroke-width="0.9"/>
<text x="286.81" y="352.80" font-size="6.8" font-weight="bold" text-anchor="middle" fill="#1c1c1c">15</text>
<line x1="296.73" y1="343.20" x2="296.73" y2="345.20" stroke="#1e1e1e" stroke-width="0.9"/>
<text x="296.73" y="352.80" font-size="6.8" font-weight="bold" text-anchor="middle" fill="#1c1c1c">17</text>
<line x1="306.65" y1="343.20" x2="306.65" y2="345.20" stroke="#1e1e1e" stroke-width="0.9"/>
<text x="306.65" y="352.80" font-size="6.8" font-weight="bold" text-anchor="middle" fill="#1c1c1c">19</text>
<line x1="316.57" y1="343.20" x2="316.57" y2="345.20" stroke="#1e1e1e" stroke-width="0.9"/>
<text x="316.57" y="352.80" font-size="6.8" font-weight="bold" text-anchor="middle" fill="#1c1c1c">21</text>
<line x1="326.49" y1="343.20" x2="326.49" y2="345.20" stroke="#1e1e1e" stroke-width="0.9"/>
<text x="326.49" y="352.80" font-size="6.8" font-weight="bold" text-anchor="middle" fill="#1c1c1c">23</text>
<line x1="336.41" y1="343.20" x2="336.41" y2="345.20" stroke="#1e1e1e" stroke-width="0.9"/>
<text x="336.41" y="352.80" font-size="6.8" font-weight="bold" text-anchor="middle" fill="#1c1c1c">25</text>
<line x1="346.33" y1="343.20" x2="346.33" y2="345.20" stroke="#1e1e1e" stroke-width="0.9"/>
<text x="346.33" y="352.80" font-size="6.8" font-weight="bold" text-anchor="middle" fill="#1c1c1c">27</text>
<line x1="356.25" y1="343.20" x2="356.25" y2="345.20" stroke="#1e1e1e" stroke-width="0.9"/>
<text x="356.25" y="352.80" font-size="6.8" font-weight="bold" text-anchor="middle" fill="#1c1c1c">29</text>
<line x1="366.17" y1="343.20" x2="366.17" y2="345.20" stroke="#1e1e1e" stroke-width="0.9"/>
<text x="366.17" y="352.80" font-size="6.8" font-weight="bold" text-anchor="middle" fill="#1c1c1c">31</text>
<line x1="376.09" y1="343.20" x2="376.09" y2="345.20" stroke="#1e1e1e" stroke-width="0.9"/>
<line x1="386.01" y1="343.20" x2="386.01" y2="345.20" stroke="#1e1e1e" stroke-width="0.9"/>
<text x="386.01" y="352.80" font-size="6.8" font-weight="bold" text-anchor="middle" fill="#1c1c1c">9</text>
<line x1="395.93" y1="343.20" x2="395.93" y2="345.20" stroke="#1e1e1e" stroke-width="0.9"/>
<text x="395.93" y="352.80" font-size="6.8" font-weight="bold" text-anchor="middle" fill="#1c1c1c">11</text>
<line x1="405.85" y1="343.20" x2="405.85" y2="345.20" stroke="#1e1e1e" stroke-width="0.9"/>
<text x="405.85" y="352.80" font-size="6.8" font-weight="bold" text-anchor="middle" fill="#1c1c1c">13</text>
<line x1="415.77" y1="343.20" x2="415.77" y2="345.20" stroke="#1e1e1e" stroke-width="0.9"/>
<text x="415.77" y="352.80" font-size="6.8" font-weight="bold" text-anchor="middle" fill="#1c1c1c">15</text>
<line x1="425.69" y1="343.20" x2="425.69" y2="345.20" stroke="#1e1e1e" stroke-width="0.9"/>
<text x="425.69" y="352.80" font-size="6.8" font-weight="bold" text-anchor="middle" fill="#1c1c1c">17</text>
<line x1="435.61" y1="343.20" x2="435.61" y2="345.20" stroke="#1e1e1e" stroke-width="0.9"/>
<text x="435.61" y="352.80" font-size="6.8" font-weight="bold" text-anchor="middle" fill="#1c1c1c">19</text>
<line x1="445.53" y1="343.20" x2="445.53" y2="345.20" stroke="#1e1e1e" stroke-width="0.9"/>
<text x="445.53" y="352.80" font-size="6.8" font-weight="bold" text-anchor="middle" fill="#1c1c1c">21</text>
<line x1="455.45" y1="343.20" x2="455.45" y2="345.20" stroke="#1e1e1e" stroke-width="0.9"/>
<text x="455.45" y="352.80" font-size="6.8" font-weight="bold" text-anchor="middle" fill="#1c1c1c">23</text>
<line x1="465.37" y1="343.20" x2="465.37" y2="345.20" stroke="#1e1e1e" stroke-width="0.9"/>
<text x="465.37" y="352.80" font-size="6.8" font-weight="bold" text-anchor="middle" fill="#1c1c1c">25</text>
<line x1="475.29" y1="343.20" x2="475.29" y2="345.20" stroke="#1e1e1e" stroke-width="0.9"/>
<text x="475.29" y="352.80" font-size="6.8" font-weight="bold" text-anchor="middle" fill="#1c1c1c">27</text>
<line x1="485.21" y1="343.20" x2="485.21" y2="345.20" stroke="#1e1e1e" stroke-width="0.9"/>
<text x="485.21" y="352.80" font-size="6.8" font-weight="bold" text-anchor="middle" fill="#1c1c1c">29</text>
<line x1="495.13" y1="343.20" x2="495.13" y2="345.20" stroke="#1e1e1e" stroke-width="0.9"/>
<text x="495.13" y="352.80" font-size="6.8" font-weight="bold" text-anchor="middle" fill="#1c1c1c">31</text>
<line x1="251.80" y1="356.10" x2="372.10" y2="356.10" stroke="#1e1e1e" stroke-width="1.2"/>
<line x1="381.30" y1="356.10" x2="501.60" y2="356.10" stroke="#1e1e1e" stroke-width="1.2"/>
<text x="310.00" y="365.20" font-size="7.0" text-anchor="middle" fill="#1c1c1c">WT</text>
<text x="434.00" y="365.20" font-size="7.2" text-anchor="middle" textLength="68.5" lengthAdjust="spacingAndGlyphs" fill="#1c1c1c">CMKLR1/CCRL2 KO</text>
<text x="375.80" y="373.00" font-size="8.0" font-weight="bold" text-anchor="middle" textLength="69.0" lengthAdjust="spacingAndGlyphs" fill="#1c1c1c">Weeks of treatment</text>
<rect x="256.9" y="264.30" width="9.6" height="4.4" fill="#767676" stroke="#3a3a3a" stroke-width="0.8"/>
<text x="271.90" y="269.20" font-size="7.5" textLength="110" lengthAdjust="spacingAndGlyphs" fill="#1c1c1c">Papilloma and Carcinoma &gt; 3mm</text>
<rect x="256.9" y="274.70" width="9.6" height="4.4" fill="#a4a4a4" stroke="#3a3a3a" stroke-width="0.8"/>
<text x="271.90" y="279.60" font-size="7.5" textLength="63" lengthAdjust="spacingAndGlyphs" fill="#1c1c1c">Papilloma (1-3mm)</text>
<rect x="256.9" y="285.20" width="9.6" height="4.4" fill="#dcdcdc" stroke="#3a3a3a" stroke-width="0.8"/>
<text x="271.90" y="290.10" font-size="7.5" textLength="63" lengthAdjust="spacingAndGlyphs" fill="#1c1c1c">Papilloma (0-1mm)</text>
<line x1="29.90" y1="432.00" x2="29.90" y2="515.80" stroke="#1e1e1e" stroke-width="1.0"/>
<line x1="29.40" y1="515.30" x2="487.00" y2="515.30" stroke="#1e1e1e" stroke-width="1.3"/>
<line x1="27.40" y1="515.30" x2="29.90" y2="515.30" stroke="#1e1e1e" stroke-width="0.9"/>
<text x="27.80" y="517.00" font-size="4.9" font-weight="bold" text-anchor="end" fill="#1c1c1c">0</text>
<line x1="27.40" y1="487.70" x2="29.90" y2="487.70" stroke="#1e1e1e" stroke-width="0.9"/>
<text x="27.80" y="489.40" font-size="4.9" font-weight="bold" text-anchor="end" fill="#1c1c1c">10</text>
<line x1="27.40" y1="460.10" x2="29.90" y2="460.10" stroke="#1e1e1e" stroke-width="0.9"/>
<text x="27.80" y="461.80" font-size="4.9" font-weight="bold" text-anchor="end" fill="#1c1c1c">20</text>
<line x1="27.40" y1="432.50" x2="29.90" y2="432.50" stroke="#1e1e1e" stroke-width="0.9"/>
<text x="27.80" y="434.20" font-size="4.9" font-weight="bold" text-anchor="end" fill="#1c1c1c">30</text>
<text transform="translate(18.4 474.1) rotate(-90)" font-size="7.0" font-weight="bold" fill="#1c1c1c" text-anchor="middle" textLength="61" lengthAdjust="spacingAndGlyphs">Tumors per mouse</text>
<rect x="41.89" y="514.47" width="6.40" height="0.83" fill="#dcdcdc" stroke="#3a3a3a" stroke-width="0.75"/>
<rect x="51.59" y="513.09" width="6.40" height="2.21" fill="#dcdcdc" stroke="#3a3a3a" stroke-width="0.75"/>
<rect x="51.59" y="511.44" width="6.40" height="1.66" fill="#a4a4a4" stroke="#3a3a3a" stroke-width="0.75"/>
<rect x="61.28" y="508.68" width="6.40" height="6.62" fill="#dcdcdc" stroke="#3a3a3a" stroke-width="0.75"/>
<rect x="61.28" y="504.26" width="6.40" height="4.42" fill="#a4a4a4" stroke="#3a3a3a" stroke-width="0.75"/>
<rect x="70.98" y="505.92" width="6.40" height="9.38" fill="#dcdcdc" stroke="#3a3a3a" stroke-width="0.75"/>
<rect x="70.98" y="496.53" width="6.40" height="9.38" fill="#a4a4a4" stroke="#3a3a3a" stroke-width="0.75"/>
<rect x="80.67" y="507.02" width="6.40" height="8.28" fill="#dcdcdc" stroke="#3a3a3a" stroke-width="0.75"/>
<rect x="80.67" y="491.01" width="6.40" height="16.01" fill="#a4a4a4" stroke="#3a3a3a" stroke-width="0.75"/>
<rect x="80.67" y="488.80" width="6.40" height="2.21" fill="#767676" stroke="#3a3a3a" stroke-width="0.75"/>
<rect x="90.37" y="510.06" width="6.40" height="5.24" fill="#dcdcdc" stroke="#3a3a3a" stroke-width="0.75"/>
<rect x="90.37" y="493.77" width="6.40" height="16.28" fill="#a4a4a4" stroke="#3a3a3a" stroke-width="0.75"/>
<rect x="90.37" y="486.32" width="6.40" height="7.45" fill="#767676" stroke="#3a3a3a" stroke-width="0.75"/>
<rect x="100.07" y="512.82" width="6.40" height="2.48" fill="#dcdcdc" stroke="#3a3a3a" stroke-width="0.75"/>
<rect x="100.07" y="490.46" width="6.40" height="22.36" fill="#a4a4a4" stroke="#3a3a3a" stroke-width="0.75"/>
<rect x="100.07" y="480.25" width="6.40" height="10.21" fill="#767676" stroke="#3a3a3a" stroke-width="0.75"/>
<rect x="109.76" y="513.92" width="6.40" height="1.38" fill="#dcdcdc" stroke="#3a3a3a" stroke-width="0.75"/>
<rect x="109.76" y="486.04" width="6.40" height="27.88" fill="#a4a4a4" stroke="#3a3a3a" stroke-width="0.75"/>
<rect x="109.76" y="475.00" width="6.40" height="11.04" fill="#767676" stroke="#3a3a3a" stroke-width="0.75"/>
<rect x="119.45" y="484.94" width="6.40" height="30.36" fill="#a4a4a4" stroke="#3a3a3a" stroke-width="0.75"/>
<rect x="119.45" y="469.21" width="6.40" height="15.73" fill="#767676" stroke="#3a3a3a" stroke-width="0.75"/>
<rect x="129.15" y="483.01" width="6.40" height="32.29" fill="#a4a4a4" stroke="#3a3a3a" stroke-width="0.75"/>
<rect x="129.15" y="463.69" width="6.40" height="19.32" fill="#767676" stroke="#3a3a3a" stroke-width="0.75"/>
<rect x="158.24" y="511.16" width="6.40" height="4.14" fill="#dcdcdc" stroke="#3a3a3a" stroke-width="0.75"/>
<rect x="158.24" y="509.78" width="6.40" height="1.38" fill="#a4a4a4" stroke="#3a3a3a" stroke-width="0.75"/>
<rect x="158.24" y="507.43" width="6.40" height="2.35" fill="#767676" stroke="#3a3a3a" stroke-width="0.75"/>
<rect x="167.93" y="510.33" width="6.40" height="4.97" fill="#dcdcdc" stroke="#3a3a3a" stroke-width="0.75"/>
<rect x="167.93" y="502.88" width="6.40" height="7.45" fill="#a4a4a4" stroke="#3a3a3a" stroke-width="0.75"/>
<rect x="177.63" y="504.26" width="6.40" height="11.04" fill="#dcdcdc" stroke="#3a3a3a" stroke-width="0.75"/>
<rect x="177.63" y="491.01" width="6.40" height="13.25" fill="#a4a4a4" stroke="#3a3a3a" stroke-width="0.75"/>
<rect x="187.32" y="498.19" width="6.40" height="17.11" fill="#dcdcdc" stroke="#3a3a3a" stroke-width="0.75"/>
<rect x="187.32" y="480.25" width="6.40" height="17.94" fill="#a4a4a4" stroke="#3a3a3a" stroke-width="0.75"/>
<rect x="197.02" y="508.95" width="6.40" height="6.35" fill="#dcdcdc" stroke="#3a3a3a" stroke-width="0.75"/>
<rect x="197.02" y="475.28" width="6.40" height="33.67" fill="#a4a4a4" stroke="#3a3a3a" stroke-width="0.75"/>
<rect x="197.02" y="465.62" width="6.40" height="9.66" fill="#767676" stroke="#3a3a3a" stroke-width="0.75"/>
<rect x="206.71" y="508.95" width="6.40" height="6.35" fill="#dcdcdc" stroke="#3a3a3a" stroke-width="0.75"/>
<rect x="206.71" y="471.97" width="6.40" height="36.98" fill="#a4a4a4" stroke="#3a3a3a" stroke-width="0.75"/>
<rect x="206.71" y="458.72" width="6.40" height="13.25" fill="#767676" stroke="#3a3a3a" stroke-width="0.75"/>
<rect x="216.41" y="512.82" width="6.40" height="2.48" fill="#dcdcdc" stroke="#3a3a3a" stroke-width="0.75"/>
<rect x="216.41" y="471.14" width="6.40" height="41.68" fill="#a4a4a4" stroke="#3a3a3a" stroke-width="0.75"/>
<rect x="216.41" y="454.58" width="6.40" height="16.56" fill="#767676" stroke="#3a3a3a" stroke-width="0.75"/>
<rect x="226.10" y="514.47" width="6.40" height="0.83" fill="#dcdcdc" stroke="#3a3a3a" stroke-width="0.75"/>
<rect x="226.10" y="468.38" width="6.40" height="46.09" fill="#a4a4a4" stroke="#3a3a3a" stroke-width="0.75"/>
<rect x="226.10" y="449.61" width="6.40" height="18.77" fill="#767676" stroke="#3a3a3a" stroke-width="0.75"/>
<rect x="235.80" y="474.45" width="6.40" height="40.85" fill="#a4a4a4" stroke="#3a3a3a" stroke-width="0.75"/>
<rect x="235.80" y="446.85" width="6.40" height="27.60" fill="#767676" stroke="#3a3a3a" stroke-width="0.75"/>
<rect x="245.49" y="478.59" width="6.40" height="36.71" fill="#a4a4a4" stroke="#3a3a3a" stroke-width="0.75"/>
<rect x="245.49" y="445.47" width="6.40" height="33.12" fill="#767676" stroke="#3a3a3a" stroke-width="0.75"/>
<rect x="303.66" y="515.02" width="6.40" height="0.28" fill="#dcdcdc" stroke="#3a3a3a" stroke-width="0.75"/>
<rect x="313.36" y="512.54" width="6.40" height="2.76" fill="#dcdcdc" stroke="#3a3a3a" stroke-width="0.75"/>
<rect x="313.36" y="511.30" width="6.40" height="1.24" fill="#a4a4a4" stroke="#3a3a3a" stroke-width="0.75"/>
<rect x="323.05" y="512.54" width="6.40" height="2.76" fill="#dcdcdc" stroke="#3a3a3a" stroke-width="0.75"/>
<rect x="323.05" y="510.88" width="6.40" height="1.66" fill="#a4a4a4" stroke="#3a3a3a" stroke-width="0.75"/>
<rect x="332.75" y="511.99" width="6.40" height="3.31" fill="#dcdcdc" stroke="#3a3a3a" stroke-width="0.75"/>
<rect x="332.75" y="509.78" width="6.40" height="2.21" fill="#a4a4a4" stroke="#3a3a3a" stroke-width="0.75"/>
<rect x="332.75" y="508.68" width="6.40" height="1.10" fill="#767676" stroke="#3a3a3a" stroke-width="0.75"/>
<rect x="342.44" y="511.71" width="6.40" height="3.59" fill="#dcdcdc" stroke="#3a3a3a" stroke-width="0.75"/>
<rect x="342.44" y="509.23" width="6.40" height="2.48" fill="#a4a4a4" stroke="#3a3a3a" stroke-width="0.75"/>
<rect x="342.44" y="507.57" width="6.40" height="1.66" fill="#767676" stroke="#3a3a3a" stroke-width="0.75"/>
<rect x="352.13" y="511.71" width="6.40" height="3.59" fill="#dcdcdc" stroke="#3a3a3a" stroke-width="0.75"/>
<rect x="352.13" y="509.23" width="6.40" height="2.48" fill="#a4a4a4" stroke="#3a3a3a" stroke-width="0.75"/>
<rect x="352.13" y="507.57" width="6.40" height="1.66" fill="#767676" stroke="#3a3a3a" stroke-width="0.75"/>
<rect x="361.83" y="511.71" width="6.40" height="3.59" fill="#dcdcdc" stroke="#3a3a3a" stroke-width="0.75"/>
<rect x="361.83" y="509.23" width="6.40" height="2.48" fill="#a4a4a4" stroke="#3a3a3a" stroke-width="0.75"/>
<rect x="361.83" y="507.57" width="6.40" height="1.66" fill="#767676" stroke="#3a3a3a" stroke-width="0.75"/>
<rect x="400.61" y="511.16" width="6.40" height="4.14" fill="#dcdcdc" stroke="#3a3a3a" stroke-width="0.75"/>
<rect x="410.31" y="509.23" width="6.40" height="6.07" fill="#dcdcdc" stroke="#3a3a3a" stroke-width="0.75"/>
<rect x="410.31" y="506.19" width="6.40" height="3.04" fill="#a4a4a4" stroke="#3a3a3a" stroke-width="0.75"/>
<rect x="420.00" y="508.40" width="6.40" height="6.90" fill="#dcdcdc" stroke="#3a3a3a" stroke-width="0.75"/>
<rect x="420.00" y="500.40" width="6.40" height="8.00" fill="#a4a4a4" stroke="#3a3a3a" stroke-width="0.75"/>
<rect x="429.69" y="508.68" width="6.40" height="6.62" fill="#dcdcdc" stroke="#3a3a3a" stroke-width="0.75"/>
<rect x="429.69" y="494.32" width="6.40" height="14.35" fill="#a4a4a4" stroke="#3a3a3a" stroke-width="0.75"/>
<rect x="439.39" y="509.50" width="6.40" height="5.80" fill="#dcdcdc" stroke="#3a3a3a" stroke-width="0.75"/>
<rect x="439.39" y="495.98" width="6.40" height="13.52" fill="#a4a4a4" stroke="#3a3a3a" stroke-width="0.75"/>
<rect x="439.39" y="491.29" width="6.40" height="4.69" fill="#767676" stroke="#3a3a3a" stroke-width="0.75"/>
<rect x="449.08" y="512.68" width="6.40" height="2.62" fill="#dcdcdc" stroke="#3a3a3a" stroke-width="0.75"/>
<rect x="449.08" y="496.81" width="6.40" height="15.87" fill="#a4a4a4" stroke="#3a3a3a" stroke-width="0.75"/>
<rect x="449.08" y="491.29" width="6.40" height="5.52" fill="#767676" stroke="#3a3a3a" stroke-width="0.75"/>
<rect x="458.78" y="513.64" width="6.40" height="1.66" fill="#dcdcdc" stroke="#3a3a3a" stroke-width="0.75"/>
<rect x="458.78" y="495.43" width="6.40" height="18.22" fill="#a4a4a4" stroke="#3a3a3a" stroke-width="0.75"/>
<rect x="458.78" y="490.18" width="6.40" height="5.24" fill="#767676" stroke="#3a3a3a" stroke-width="0.75"/>
<rect x="468.48" y="497.91" width="6.40" height="17.39" fill="#a4a4a4" stroke="#3a3a3a" stroke-width="0.75"/>
<rect x="468.48" y="489.63" width="6.40" height="8.28" fill="#767676" stroke="#3a3a3a" stroke-width="0.75"/>
<rect x="478.17" y="497.36" width="6.40" height="17.94" fill="#a4a4a4" stroke="#3a3a3a" stroke-width="0.75"/>
<rect x="478.17" y="487.42" width="6.40" height="9.94" fill="#767676" stroke="#3a3a3a" stroke-width="0.75"/>
<line x1="35.40" y1="515.30" x2="35.40" y2="517.10" stroke="#1e1e1e" stroke-width="0.8"/>
<text x="35.40" y="523.90" font-size="5.2" font-weight="bold" text-anchor="middle" fill="#1c1c1c">8</text>
<line x1="45.09" y1="515.30" x2="45.09" y2="517.10" stroke="#1e1e1e" stroke-width="0.8"/>
<text x="45.09" y="523.90" font-size="5.2" font-weight="bold" text-anchor="middle" fill="#1c1c1c">10</text>
<line x1="54.79" y1="515.30" x2="54.79" y2="517.10" stroke="#1e1e1e" stroke-width="0.8"/>
<text x="54.79" y="523.90" font-size="5.2" font-weight="bold" text-anchor="middle" fill="#1c1c1c">12</text>
<line x1="64.48" y1="515.30" x2="64.48" y2="517.10" stroke="#1e1e1e" stroke-width="0.8"/>
<text x="64.48" y="523.90" font-size="5.2" font-weight="bold" text-anchor="middle" fill="#1c1c1c">14</text>
<line x1="74.18" y1="515.30" x2="74.18" y2="517.10" stroke="#1e1e1e" stroke-width="0.8"/>
<text x="74.18" y="523.90" font-size="5.2" font-weight="bold" text-anchor="middle" fill="#1c1c1c">16</text>
<line x1="83.88" y1="515.30" x2="83.88" y2="517.10" stroke="#1e1e1e" stroke-width="0.8"/>
<text x="83.88" y="523.90" font-size="5.2" font-weight="bold" text-anchor="middle" fill="#1c1c1c">18</text>
<line x1="93.57" y1="515.30" x2="93.57" y2="517.10" stroke="#1e1e1e" stroke-width="0.8"/>
<text x="93.57" y="523.90" font-size="5.2" font-weight="bold" text-anchor="middle" fill="#1c1c1c">20</text>
<line x1="103.27" y1="515.30" x2="103.27" y2="517.10" stroke="#1e1e1e" stroke-width="0.8"/>
<text x="103.27" y="523.90" font-size="5.2" font-weight="bold" text-anchor="middle" fill="#1c1c1c">22</text>
<line x1="112.96" y1="515.30" x2="112.96" y2="517.10" stroke="#1e1e1e" stroke-width="0.8"/>
<text x="112.96" y="523.90" font-size="5.2" font-weight="bold" text-anchor="middle" fill="#1c1c1c">24</text>
<line x1="122.66" y1="515.30" x2="122.66" y2="517.10" stroke="#1e1e1e" stroke-width="0.8"/>
<text x="122.66" y="523.90" font-size="5.2" font-weight="bold" text-anchor="middle" fill="#1c1c1c">26</text>
<line x1="132.35" y1="515.30" x2="132.35" y2="517.10" stroke="#1e1e1e" stroke-width="0.8"/>
<text x="132.35" y="523.90" font-size="5.2" font-weight="bold" text-anchor="middle" fill="#1c1c1c">28</text>
<line x1="142.05" y1="515.30" x2="142.05" y2="517.10" stroke="#1e1e1e" stroke-width="0.8"/>
<line x1="151.74" y1="515.30" x2="151.74" y2="517.10" stroke="#1e1e1e" stroke-width="0.8"/>
<text x="151.74" y="523.90" font-size="5.2" font-weight="bold" text-anchor="middle" fill="#1c1c1c">8</text>
<line x1="161.44" y1="515.30" x2="161.44" y2="517.10" stroke="#1e1e1e" stroke-width="0.8"/>
<text x="161.44" y="523.90" font-size="5.2" font-weight="bold" text-anchor="middle" fill="#1c1c1c">10</text>
<line x1="171.13" y1="515.30" x2="171.13" y2="517.10" stroke="#1e1e1e" stroke-width="0.8"/>
<text x="171.13" y="523.90" font-size="5.2" font-weight="bold" text-anchor="middle" fill="#1c1c1c">12</text>
<line x1="180.83" y1="515.30" x2="180.83" y2="517.10" stroke="#1e1e1e" stroke-width="0.8"/>
<text x="180.83" y="523.90" font-size="5.2" font-weight="bold" text-anchor="middle" fill="#1c1c1c">14</text>
<line x1="190.52" y1="515.30" x2="190.52" y2="517.10" stroke="#1e1e1e" stroke-width="0.8"/>
<text x="190.52" y="523.90" font-size="5.2" font-weight="bold" text-anchor="middle" fill="#1c1c1c">16</text>
<line x1="200.22" y1="515.30" x2="200.22" y2="517.10" stroke="#1e1e1e" stroke-width="0.8"/>
<text x="200.22" y="523.90" font-size="5.2" font-weight="bold" text-anchor="middle" fill="#1c1c1c">18</text>
<line x1="209.91" y1="515.30" x2="209.91" y2="517.10" stroke="#1e1e1e" stroke-width="0.8"/>
<text x="209.91" y="523.90" font-size="5.2" font-weight="bold" text-anchor="middle" fill="#1c1c1c">20</text>
<line x1="219.61" y1="515.30" x2="219.61" y2="517.10" stroke="#1e1e1e" stroke-width="0.8"/>
<text x="219.61" y="523.90" font-size="5.2" font-weight="bold" text-anchor="middle" fill="#1c1c1c">22</text>
<line x1="229.30" y1="515.30" x2="229.30" y2="517.10" stroke="#1e1e1e" stroke-width="0.8"/>
<text x="229.30" y="523.90" font-size="5.2" font-weight="bold" text-anchor="middle" fill="#1c1c1c">24</text>
<line x1="239.00" y1="515.30" x2="239.00" y2="517.10" stroke="#1e1e1e" stroke-width="0.8"/>
<text x="239.00" y="523.90" font-size="5.2" font-weight="bold" text-anchor="middle" fill="#1c1c1c">26</text>
<line x1="248.69" y1="515.30" x2="248.69" y2="517.10" stroke="#1e1e1e" stroke-width="0.8"/>
<text x="248.69" y="523.90" font-size="5.2" font-weight="bold" text-anchor="middle" fill="#1c1c1c">28</text>
<line x1="258.38" y1="515.30" x2="258.38" y2="517.10" stroke="#1e1e1e" stroke-width="0.8"/>
<line x1="268.08" y1="515.30" x2="268.08" y2="517.10" stroke="#1e1e1e" stroke-width="0.8"/>
<text x="268.08" y="523.90" font-size="5.2" font-weight="bold" text-anchor="middle" fill="#1c1c1c">8</text>
<line x1="277.77" y1="515.30" x2="277.77" y2="517.10" stroke="#1e1e1e" stroke-width="0.8"/>
<text x="277.77" y="523.90" font-size="5.2" font-weight="bold" text-anchor="middle" fill="#1c1c1c">10</text>
<line x1="287.47" y1="515.30" x2="287.47" y2="517.10" stroke="#1e1e1e" stroke-width="0.8"/>
<text x="287.47" y="523.90" font-size="5.2" font-weight="bold" text-anchor="middle" fill="#1c1c1c">12</text>
<line x1="297.16" y1="515.30" x2="297.16" y2="517.10" stroke="#1e1e1e" stroke-width="0.8"/>
<text x="297.16" y="523.90" font-size="5.2" font-weight="bold" text-anchor="middle" fill="#1c1c1c">14</text>
<line x1="306.86" y1="515.30" x2="306.86" y2="517.10" stroke="#1e1e1e" stroke-width="0.8"/>
<text x="306.86" y="523.90" font-size="5.2" font-weight="bold" text-anchor="middle" fill="#1c1c1c">16</text>
<line x1="316.56" y1="515.30" x2="316.56" y2="517.10" stroke="#1e1e1e" stroke-width="0.8"/>
<text x="316.56" y="523.90" font-size="5.2" font-weight="bold" text-anchor="middle" fill="#1c1c1c">18</text>
<line x1="326.25" y1="515.30" x2="326.25" y2="517.10" stroke="#1e1e1e" stroke-width="0.8"/>
<text x="326.25" y="523.90" font-size="5.2" font-weight="bold" text-anchor="middle" fill="#1c1c1c">20</text>
<line x1="335.94" y1="515.30" x2="335.94" y2="517.10" stroke="#1e1e1e" stroke-width="0.8"/>
<text x="335.94" y="523.90" font-size="5.2" font-weight="bold" text-anchor="middle" fill="#1c1c1c">22</text>
<line x1="345.64" y1="515.30" x2="345.64" y2="517.10" stroke="#1e1e1e" stroke-width="0.8"/>
<text x="345.64" y="523.90" font-size="5.2" font-weight="bold" text-anchor="middle" fill="#1c1c1c">24</text>
<line x1="355.33" y1="515.30" x2="355.33" y2="517.10" stroke="#1e1e1e" stroke-width="0.8"/>
<text x="355.33" y="523.90" font-size="5.2" font-weight="bold" text-anchor="middle" fill="#1c1c1c">26</text>
<line x1="365.03" y1="515.30" x2="365.03" y2="517.10" stroke="#1e1e1e" stroke-width="0.8"/>
<text x="365.03" y="523.90" font-size="5.2" font-weight="bold" text-anchor="middle" fill="#1c1c1c">28</text>
<line x1="374.72" y1="515.30" x2="374.72" y2="517.10" stroke="#1e1e1e" stroke-width="0.8"/>
<line x1="384.42" y1="515.30" x2="384.42" y2="517.10" stroke="#1e1e1e" stroke-width="0.8"/>
<text x="384.42" y="523.90" font-size="5.2" font-weight="bold" text-anchor="middle" fill="#1c1c1c">8</text>
<line x1="394.12" y1="515.30" x2="394.12" y2="517.10" stroke="#1e1e1e" stroke-width="0.8"/>
<text x="394.12" y="523.90" font-size="5.2" font-weight="bold" text-anchor="middle" fill="#1c1c1c">10</text>
<line x1="403.81" y1="515.30" x2="403.81" y2="517.10" stroke="#1e1e1e" stroke-width="0.8"/>
<text x="403.81" y="523.90" font-size="5.2" font-weight="bold" text-anchor="middle" fill="#1c1c1c">12</text>
<line x1="413.50" y1="515.30" x2="413.50" y2="517.10" stroke="#1e1e1e" stroke-width="0.8"/>
<text x="413.50" y="523.90" font-size="5.2" font-weight="bold" text-anchor="middle" fill="#1c1c1c">14</text>
<line x1="423.20" y1="515.30" x2="423.20" y2="517.10" stroke="#1e1e1e" stroke-width="0.8"/>
<text x="423.20" y="523.90" font-size="5.2" font-weight="bold" text-anchor="middle" fill="#1c1c1c">16</text>
<line x1="432.89" y1="515.30" x2="432.89" y2="517.10" stroke="#1e1e1e" stroke-width="0.8"/>
<text x="432.89" y="523.90" font-size="5.2" font-weight="bold" text-anchor="middle" fill="#1c1c1c">18</text>
<line x1="442.59" y1="515.30" x2="442.59" y2="517.10" stroke="#1e1e1e" stroke-width="0.8"/>
<text x="442.59" y="523.90" font-size="5.2" font-weight="bold" text-anchor="middle" fill="#1c1c1c">20</text>
<line x1="452.28" y1="515.30" x2="452.28" y2="517.10" stroke="#1e1e1e" stroke-width="0.8"/>
<text x="452.28" y="523.90" font-size="5.2" font-weight="bold" text-anchor="middle" fill="#1c1c1c">22</text>
<line x1="461.98" y1="515.30" x2="461.98" y2="517.10" stroke="#1e1e1e" stroke-width="0.8"/>
<text x="461.98" y="523.90" font-size="5.2" font-weight="bold" text-anchor="middle" fill="#1c1c1c">24</text>
<line x1="471.68" y1="515.30" x2="471.68" y2="517.10" stroke="#1e1e1e" stroke-width="0.8"/>
<text x="471.68" y="523.90" font-size="5.2" font-weight="bold" text-anchor="middle" fill="#1c1c1c">26</text>
<line x1="481.37" y1="515.30" x2="481.37" y2="517.10" stroke="#1e1e1e" stroke-width="0.8"/>
<text x="481.37" y="523.90" font-size="5.2" font-weight="bold" text-anchor="middle" fill="#1c1c1c">28</text>
<line x1="31.80" y1="526.90" x2="135.90" y2="526.90" stroke="#1e1e1e" stroke-width="1.1"/>
<text x="80.90" y="535.60" font-size="6.6" text-anchor="middle" fill="#1c1c1c">WT</text>
<line x1="149.30" y1="526.90" x2="253.90" y2="526.90" stroke="#1e1e1e" stroke-width="1.1"/>
<text x="200.60" y="535.60" font-size="6.6" text-anchor="middle" textLength="32.5" lengthAdjust="spacingAndGlyphs" fill="#1c1c1c">CCRL2 KO</text>
<line x1="265.90" y1="526.90" x2="370.00" y2="526.90" stroke="#1e1e1e" stroke-width="1.1"/>
<text x="318.70" y="535.60" font-size="6.6" text-anchor="middle" textLength="27.5" lengthAdjust="spacingAndGlyphs" fill="#1c1c1c">K5-Chem</text>
<line x1="382.20" y1="526.90" x2="486.20" y2="526.90" stroke="#1e1e1e" stroke-width="1.1"/>
<text x="435.40" y="535.60" font-size="6.6" text-anchor="middle" textLength="64" lengthAdjust="spacingAndGlyphs" fill="#1c1c1c">K5-Chem/CCRL2 KO</text>
<text x="258.90" y="543.20" font-size="7.4" font-weight="bold" text-anchor="middle" textLength="64" lengthAdjust="spacingAndGlyphs" fill="#1c1c1c">Weeks of treatment</text>
<rect x="35.8" y="436.30" width="8.9" height="4.2" fill="#767676" stroke="#3a3a3a" stroke-width="0.8"/>
<text x="49.80" y="440.90" font-size="7.0" textLength="101" lengthAdjust="spacingAndGlyphs" fill="#1c1c1c">Papilloma and Carcinoma &gt; 3mm</text>
<rect x="35.8" y="445.80" width="8.9" height="4.2" fill="#a4a4a4" stroke="#3a3a3a" stroke-width="0.8"/>
<text x="49.80" y="450.40" font-size="7.0" textLength="58.2" lengthAdjust="spacingAndGlyphs" fill="#1c1c1c">Papilloma (1-3mm)</text>
<rect x="35.8" y="454.90" width="8.9" height="4.2" fill="#dcdcdc" stroke="#3a3a3a" stroke-width="0.8"/>
<text x="49.80" y="459.50" font-size="7.0" textLength="58.2" lengthAdjust="spacingAndGlyphs" fill="#1c1c1c">Papilloma (0-1mm)</text>
</svg>
</body></html>
